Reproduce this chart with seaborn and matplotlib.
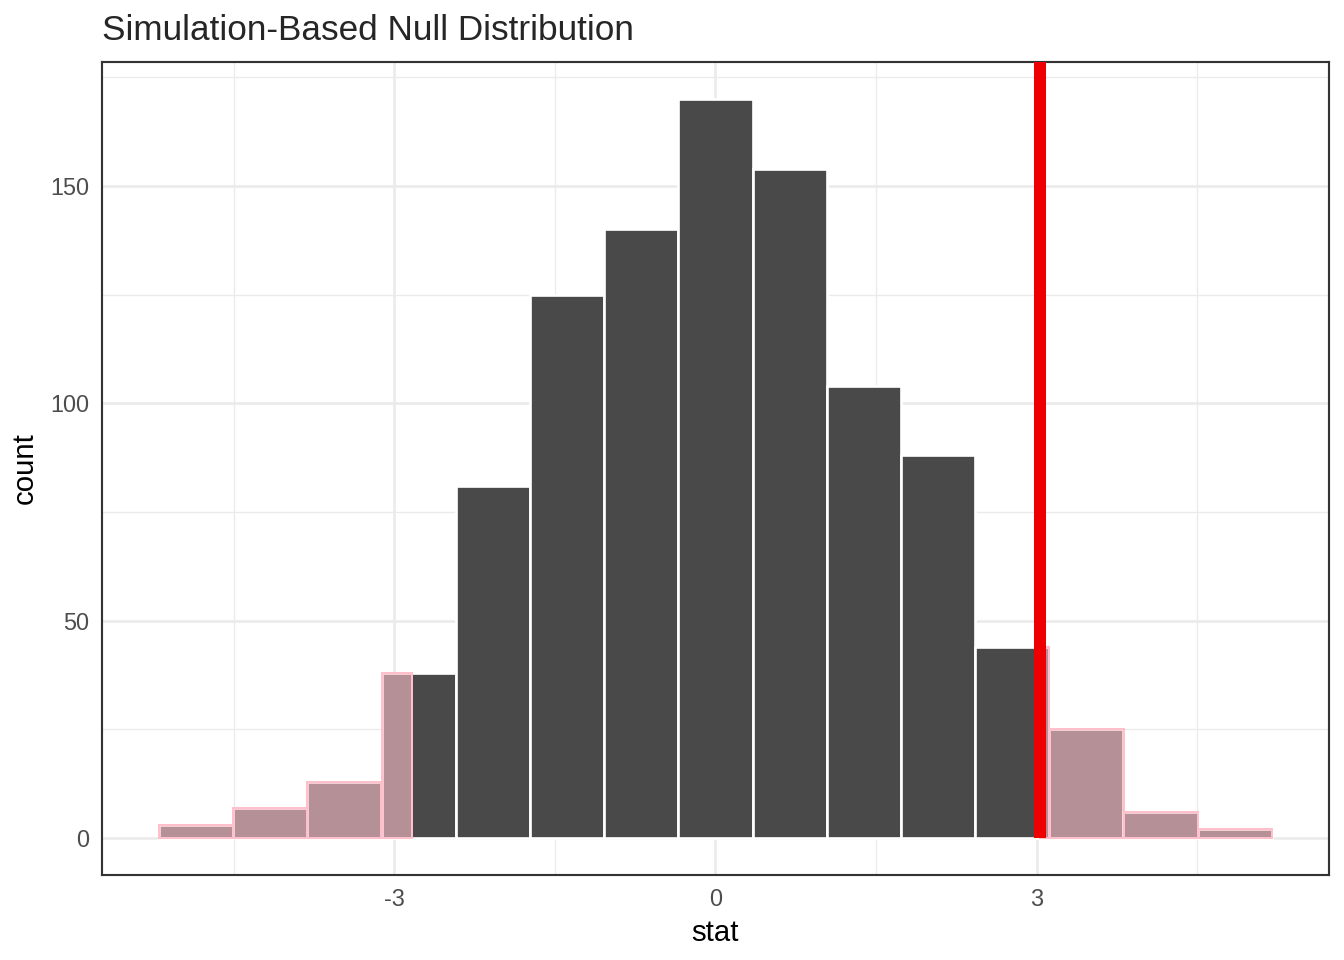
import numpy as np
import pandas as pd
import seaborn as sns
import matplotlib.pyplot as plt

# bin centres and counts
stat_bins = [-4.85, -4.16, -3.47, -2.77, -2.08, -1.39, -0.69, 0.0,
             0.69, 1.39, 2.08, 2.77, 3.47, 4.16, 4.85]
counts = [3, 7, 13, 38, 81, 125, 140, 170, 154, 104, 88, 44, 25, 6, 2]
bin_width = 0.693
obs_stat = 3.03
mirror_stat = -2.83

x_ticks = [-3, 0, 3]
y_ticks = [0, 50, 100, 150]

df = pd.DataFrame({"stat": stat_bins, "count": counts})
lo_edge = stat_bins[0] - bin_width / 2
hi_edge = stat_bins[-1] + bin_width / 2

sns.set_theme(style="white")
plt.rcParams["font.family"] = ["Liberation Sans", "DejaVu Sans"]

fig = plt.figure(figsize=(7, 5), dpi=192)
ax = fig.add_axes([0.0759, 0.0885, 0.9129, 0.8469])

sns.histplot(data=df, x="stat", weights="count", bins=len(stat_bins),
             binrange=(lo_edge, hi_edge), ax=ax,
             color="#494949", alpha=1, edgecolor="white", linewidth=1.0)

# shade the two tails (clip bars at the observed stat and its mirror)
for c, n in zip(stat_bins, counts):
    lo, hi = c - bin_width / 2, c + bin_width / 2
    for a, b in [(lo, min(hi, mirror_stat)), (max(lo, obs_stat), hi)]:
        if b > a:
            ax.bar(a, n, width=b - a, align="edge", color=(1, 0.753, 0.796, 0.6),
                   edgecolor="pink", linewidth=0.75, zorder=3)

ylim = (-8.5, 178.5)
ax.set_xlim(-5.73, 5.73)
ax.set_ylim(*ylim)
ax.vlines(obs_stat, 0, ylim[1] + 1, color="#EE0000", linewidth=4.5, zorder=4)

ax.set_xticks(x_ticks)
ax.set_xticklabels([str(t) for t in x_ticks])
ax.set_yticks(y_ticks)
ax.set_xticks([-4.5, -1.5, 1.5, 4.5], minor=True)
ax.set_yticks([25, 75, 125, 175], minor=True)
ax.grid(True, which="major", color="#EBEBEB", linewidth=1.0)
ax.grid(True, which="minor", color="#EBEBEB", linewidth=0.5)
ax.set_axisbelow(True)
ax.tick_params(which="major", length=2.75, width=0.9, color="#333333",
               labelsize=8.8, labelcolor="#4D4D4D", pad=2.2)
ax.tick_params(which="minor", length=0)
for s in ax.spines.values():
    s.set_color("#333333")
    s.set_linewidth(0.8)

ax.set_xlabel("stat", fontsize=11, color="black", labelpad=3)
ax.set_ylabel("count", fontsize=11, color="black", labelpad=4)
fig.text(0.0759, 1 - 40 / 960, "Simulation-Based Null Distribution",
         fontsize=13.2, ha="left", va="baseline")

plt.savefig("out.png", dpi=192)
